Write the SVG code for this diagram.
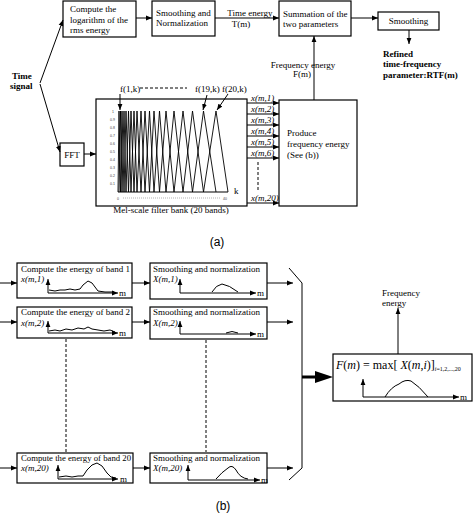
<svg xmlns="http://www.w3.org/2000/svg" width="474" height="513" viewBox="0 0 474 513">
<defs>
<marker id="ah" viewBox="0 0 10 10" refX="10" refY="5" markerWidth="6" markerHeight="6" orient="auto" markerUnits="userSpaceOnUse"><path d="M0,1 L10,5 L0,9 z" fill="#000"/></marker>
<style>
.box{fill:#fff;stroke:#000;stroke-width:1.2}
.ln{fill:none;stroke:#000;stroke-width:1}
.ar{fill:none;stroke:#000;stroke-width:1;marker-end:url(#ah)}
.dash{fill:none;stroke:#000;stroke-width:1;stroke-dasharray:3,2}
.t{font-family:"Liberation Serif","Times New Roman",serif;font-size:9px;fill:#000}
.it{font-style:italic}
.b{font-weight:bold}
.tiny{font-family:"Liberation Sans",sans-serif;font-size:3.5px;fill:#444}
.cap{font-family:"Liberation Sans",sans-serif;font-size:12px;fill:#000}
</style>
</defs>
<rect width="474" height="513" fill="#fff"/>

<!-- ===== Part (a) ===== -->
<g id="log-rms">
<rect class="box" x="63" y="1" width="73" height="36"/>
<text class="t" x="70" y="12">Compute the</text>
<text class="t" x="70" y="23">logarithm of the</text>
<text class="t" x="70" y="33">rms energy</text>
</g>
<g id="smooth-norm-a">
<rect class="box" x="152" y="1" width="63" height="35"/>
<text class="t" x="156" y="16">Smoothing and</text>
<text class="t" x="156" y="26">Normalization</text>
</g>
<g id="summation">
<rect class="box" x="279" y="1" width="72" height="35"/>
<text class="t" x="283" y="17">Summation of the</text>
<text class="t" x="283" y="27">two parameters</text>
</g>
<g id="smoothing">
<rect class="box" x="378" y="12" width="61" height="18"/>
<text class="t" x="408.5" y="24" text-anchor="middle">Smoothing</text>
</g>
<g id="rtf-label">
<text class="t b" x="383" y="57">Refined</text>
<text class="t b" x="383" y="67">time-frequency</text>
<text class="t b" x="383" y="78">parameter:RTF(m)</text>
</g>
<g id="time-signal">
<text class="t b" x="12" y="79">Time</text>
<text class="t b" x="10" y="89">signal</text>
</g>
<g id="fft">
<rect class="box" x="60" y="143" width="24" height="23"/>
<text class="t" x="72" y="158" text-anchor="middle">FFT</text>
</g>
<g id="filter-bank">
<rect class="box" x="96" y="99" width="151" height="107"/>
<g fill="none" stroke="#000" stroke-width="0.9">
<path d="M118,192 L119,111 L120.5,192"/>
<path d="M119,192 L120.5,111 L122,192"/>
<path d="M120.5,192 L122,111 L124,192"/>
<path d="M122,192 L124,111 L126,192"/>
<path d="M124,192 L126,111 L128.5,192"/>
<path d="M126,192 L128.5,111 L131,192"/>
<path d="M128.5,192 L131,111 L134,192"/>
<path d="M131,192 L134,111 L137,192"/>
<path d="M134,192 L137,111 L141,192"/>
<path d="M137,192 L141,111 L145,192"/>
<path d="M141,192 L145,111 L149.5,192"/>
<path d="M145,192 L149.5,111 L154,192"/>
<path d="M149.5,192 L154,111 L159.5,192"/>
<path d="M154,192 L159.5,111 L166,192"/>
<path d="M159.5,192 L166,111 L174,192"/>
<path d="M166,192 L174,111 L183,192"/>
<path d="M174,192 L183,111 L192.5,192"/>
<path d="M183,192 L192.5,111 L203.5,192"/>
<path d="M192.5,192 L203.5,111 L216,192"/>
<path d="M203.5,192 L216,111 L228,192"/>
<path d="M118,192 L228,192" stroke-width="1.2"/>
</g>
<text class="tiny" x="112" y="113">1</text>
<text class="tiny" x="110" y="121">0.9</text>
<text class="tiny" x="110" y="129">0.8</text>
<text class="tiny" x="110" y="137">0.7</text>
<text class="tiny" x="110" y="145">0.6</text>
<text class="tiny" x="110" y="153">0.5</text>
<text class="tiny" x="110" y="161">0.4</text>
<text class="tiny" x="110" y="169">0.3</text>
<text class="tiny" x="110" y="177">0.2</text>
<text class="tiny" x="110" y="185">0.1</text>
<text class="tiny" x="117" y="200">0</text>
<text class="tiny" x="223" y="200">40</text>
<path d="M123,198 L221,198" fill="none" stroke="#666" stroke-width="0.5" stroke-dasharray="1,1"/>
<text class="t" x="234" y="194">k</text>
<text class="t" x="120" y="92">f(1,k)</text>
<path class="dash" d="M140,88 L187,88"/>
<text class="t" x="195" y="92">f(19,k) f(20,k)</text>
</g>
<g id="filter-caption">
<text class="t" x="171" y="213" text-anchor="middle">Mel-scale filter bank (20 bands)</text>
</g>
<g id="produce">
<rect class="box" x="279" y="100" width="78" height="106"/>
<text class="t" x="287" y="136">Produce</text>
<text class="t" x="287" y="147">frequency energy</text>
<text class="t" x="287" y="158">(See (b))</text>
</g>
<g id="band-labels-a">
<text class="t it" x="251" y="101">x(m,1)</text>
<text class="t it" x="251" y="112">x(m,2)</text>
<text class="t it" x="251" y="123">x(m,3)</text>
<text class="t it" x="251" y="134">x(m,4)</text>
<text class="t it" x="251" y="145">x(m,5)</text>
<text class="t it" x="251" y="156">x(m,6)</text>
<text class="t it" x="251" y="201">x(m,20)</text>
</g>
<g id="time-energy-label">
<text class="t" x="250" y="16" text-anchor="middle">Time energy</text>
<text class="t" x="241" y="27" text-anchor="middle">T(m)</text>
</g>
<g id="freq-energy-label-a">
<text class="t" x="303" y="68" text-anchor="middle">Frequency energy</text>
<text class="t" x="302" y="77" text-anchor="middle">F(m)</text>
</g>
<text class="cap" x="217" y="246" text-anchor="middle">(a)</text>

<!-- ===== Part (b) ===== -->
<g id="band1">
<rect class="box" x="17" y="263" width="115" height="35"/>
<text class="t" x="21" y="272">Compute the energy of band 1</text>
<text class="t it" x="21" y="282">x(m,1)</text>
<path class="ar" d="M48,293 L48,279"/>
<path class="ar" d="M48,293 L118,293"/>
<text class="t" x="119" y="296">m</text>
<path class="ln" d="M49,290 L55,291 L60,290 L65,290 L70,289 L75,290 L80,289 L83,285 L88,281 L92,283 L95,287 L98,291 L105,292 L114,292"/>
</g>
<g id="smooth1">
<rect class="box" x="150" y="263" width="117" height="36"/>
<text class="t" x="153" y="272">Smoothing and normalization</text>
<text class="t it" x="153" y="282">X(m,1)</text>
<path class="ar" d="M180,293 L180,279"/>
<path class="ar" d="M180,293 L256,293"/>
<text class="t" x="257" y="296">m</text>
<path class="ln" d="M212,292 Q216,285 222,284 Q229,285 238,292"/>
</g>
<g id="band2">
<rect class="box" x="17" y="307" width="115" height="31"/>
<text class="t" x="21" y="315">Compute the energy of band 2</text>
<text class="t it" x="21" y="326">x(m,2)</text>
<path class="ar" d="M48,333 L48,321"/>
<path class="ar" d="M48,333 L118,333"/>
<text class="t" x="119" y="336">m</text>
<path class="ln" d="M49,331 L55,330 L60,331 L66,329 L72,330 L78,328 L84,329 L88,327 L92,329 L98,330 L104,331 L110,330 L115,332"/>
</g>
<g id="smooth2">
<rect class="box" x="150" y="307" width="117" height="32"/>
<text class="t" x="153" y="315">Smoothing and normalization</text>
<text class="t it" x="153" y="326">X(m,2)</text>
<path class="ar" d="M180,334 L180,321"/>
<path class="ar" d="M180,334 L256,334"/>
<text class="t" x="257" y="337">m</text>
<path class="ln" d="M226,333 Q232,330 238,333"/>
</g>
<g id="band20">
<rect class="box" x="17" y="453" width="116" height="30"/>
<text class="t" x="21" y="461" textLength="110" lengthAdjust="spacingAndGlyphs">Compute the energy of band 20</text>
<text class="t it" x="21" y="471">x(m,20)</text>
<path class="ar" d="M58,479 L58,465"/>
<path class="ar" d="M58,479 L118,479"/>
<text class="t" x="120" y="482">m</text>
<path class="ln" d="M59,477 L66,476 L72,477 L78,476 L83,476 L87,470 L92,465 L97,463 L102,466 L107,473 L111,477 L116,478"/>
</g>
<g id="smooth20">
<rect class="box" x="150" y="453" width="117" height="30"/>
<text class="t" x="153" y="461">Smoothing and normalization</text>
<text class="t it" x="153" y="471">X(m,20)</text>
<path class="ar" d="M188,480 L188,465"/>
<path class="ar" d="M188,480 L260,480"/>
<text class="t" x="261" y="483">m</text>
<path class="ln" d="M216,479 Q222,472 228,468 Q232,464 236,470 Q240,478 248,479"/>
</g>
<g id="max-box">
<rect class="box" x="333" y="354" width="139" height="47"/>
<text class="t" x="336" y="369" style="font-size:12px"><tspan class="it">F</tspan>(<tspan class="it">m</tspan>) = max[ <tspan class="it">X</tspan>(<tspan class="it">m</tspan>,<tspan class="it">i</tspan>)]<tspan style="font-size:6px" dy="2"><tspan class="it">i</tspan>=1,2,...,20</tspan></text>
<path class="ar" d="M363,397 L363,379"/>
<path class="ar" d="M363,397 L459,397"/>
<text class="t" x="460" y="400">m</text>
<path class="ln" d="M385,397 Q391,387 399,384 Q405,379 411,381 Q419,386 428,397"/>
</g>
<g id="freq-energy-label-b">
<text class="t" x="382" y="296">Frequency</text>
<text class="t" x="382" y="306">energy</text>
</g>
<text class="cap" x="223" y="510" text-anchor="middle">(b)</text>

<!-- ===== Connectors ===== -->
<g id="connectors">
<path class="ar" d="M136,18 L152,18"/>
<path class="ar" d="M215,18 L279,18"/>
<path class="ar" d="M351,18 L378,18"/>
<path class="ar" d="M409,30 L409,44"/>
<path class="ar" d="M40,83 L63,20"/>
<path class="ar" d="M40,84 L60,152"/>
<path class="ar" d="M84,154 L96,154"/>
<path class="ar" d="M120,94 L120,110"/>
<path class="ar" d="M207,95 L203,110"/>
<path class="ar" d="M228,94 L217,110"/>
<path class="ar" d="M247,103 L279,103"/>
<path class="ar" d="M247,114 L279,114"/>
<path class="ar" d="M247,125 L279,125"/>
<path class="ar" d="M247,136 L279,136"/>
<path class="ar" d="M247,147 L279,147"/>
<path class="ar" d="M247,158 L279,158"/>
<path class="ar" d="M247,203 L279,203"/>
<path class="dash" d="M258,162 L258,192"/>
<path class="ar" d="M314,100 L314,36"/>

<path class="ar" d="M0,283 L17,283"/>
<path class="ar" d="M0,322 L17,322"/>
<path class="ar" d="M0,468 L17,468"/>
<path class="ar" d="M132,283 L150,283"/>
<path class="ar" d="M132,322 L150,322"/>
<path class="ar" d="M133,468 L150,468"/>
<path class="ar" d="M267,283 L293,283"/>
<path class="ar" d="M267,322 L293,322"/>
<path class="ar" d="M267,468 L293,468"/>
<path class="dash" d="M66,339 L66,452"/>
<path class="dash" d="M206,340 L206,452"/>
<path class="ln" d="M289,268 L302,283 L302,468 L289,480" stroke-width="1.3"/>
<path d="M302,377 L317,377" stroke="#000" stroke-width="3" fill="none"/>
<path d="M315,371 L333,377 L315,383 z" fill="#000"/>
<path class="ar" d="M398,354 L398,308"/>
</g>
</svg>
